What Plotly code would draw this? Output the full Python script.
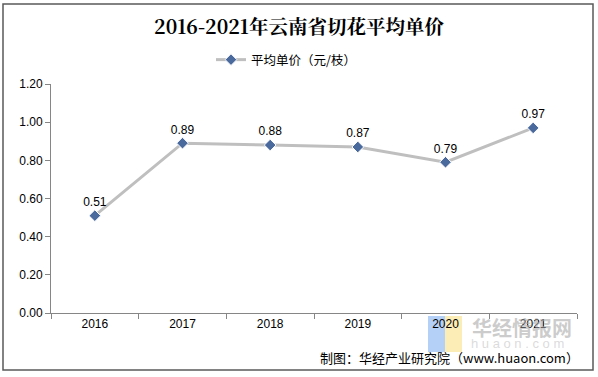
import plotly.graph_objects as go

years = ["2016", "2017", "2018", "2019", "2020", "2021"]
prices = [0.51, 0.89, 0.88, 0.87, 0.79, 0.97]
title_text = "2016-2021年云南省切花平均单价"
series_name = "平均单价（元/枝）"
source_text = "制图：华经产业研究院（www.huaon.com）"

W, H = 598, 377
L, R, T, B = 51, 577, 84, 313

def px(x):
    return (x - L) / (R - L)

def py(y):
    return (B - y) / (B - T)

fig = go.Figure()
fig.add_trace(go.Scatter(
    x=years, y=prices, mode="lines+markers+text", name=series_name,
    line=dict(color="#bfbfbf", width=3),
    marker=dict(symbol="diamond", size=9, color="#4a6a9e", line=dict(color="white", width=1)),
    text=[f"{v:.2f}" for v in prices], textposition="top center",
    textfont=dict(family="Liberation Sans, Arial", size=12, color="#000"),
    cliponaxis=False,
))

fig.update_layout(
    width=W, height=H,
    margin=dict(l=L, r=W - R, t=T, b=H - B),
    paper_bgcolor="white", plot_bgcolor="white",
    font=dict(family="Liberation Sans, Arial", size=12, color="#000"),
    title=dict(text=f"<b>{title_text}</b>", x=0.5, xanchor="center", y=1 - 27 / H, yanchor="middle",
               font=dict(family="Noto Serif CJK SC, Noto Sans CJK SC", size=19.5, color="#000")),
    showlegend=True,
    legend=dict(orientation="h", x=px(286), xanchor="center", y=py(60), yanchor="middle",
                font=dict(family="Noto Sans CJK SC", size=12.5, color="#000"),
                itemwidth=30, bgcolor="rgba(0,0,0,0)"),
    xaxis=dict(type="category", showline=True, linecolor="#868686", linewidth=1,
               ticks="outside", tickson="boundaries", ticklen=5, tickcolor="#868686",
               showgrid=False, tickfont=dict(size=12), range=[-0.5, 5.5]),
    yaxis=dict(range=[0, 1.2], dtick=0.2, tickformat=".2f", showline=True,
               linecolor="#868686", linewidth=1, ticks="outside", ticklen=5,
               tickcolor="#868686", showgrid=False, zeroline=False, tickfont=dict(size=12)),
)

# outer border
fig.add_shape(type="rect", xref="paper", yref="paper",
              x0=px(3), x1=px(593), y0=py(370), y1=py(4),
              line=dict(color="#595959", width=1.5), layer="below")

# watermark logo
fig.add_shape(type="rect", xref="paper", yref="paper",
              x0=px(428), x1=px(445), y0=py(352), y1=py(316),
              fillcolor="rgba(120,170,240,0.55)", line=dict(width=0), layer="below")
fig.add_shape(type="rect", xref="paper", yref="paper",
              x0=px(445), x1=px(462), y0=py(352), y1=py(316),
              fillcolor="rgba(250,220,110,0.5)", line=dict(width=0), layer="below")
fig.add_annotation(text="<b>华经情报网</b>", xref="paper", yref="paper",
                   x=px(522), y=py(327), xanchor="center", yanchor="middle", showarrow=False,
                   font=dict(family="Noto Sans CJK SC", size=20, color="rgba(170,170,170,0.6)"))
fig.add_annotation(text="h u a o n . c o m", xref="paper", yref="paper",
                   x=px(517), y=py(343), xanchor="center", yanchor="middle", showarrow=False,
                   font=dict(family="Liberation Sans", size=13, color="rgba(195,195,195,0.6)"))

fig.add_annotation(text=source_text, xref="paper", yref="paper",
                   x=px(581), y=py(357), xanchor="right", yanchor="middle", showarrow=False,
                   font=dict(family="Noto Sans CJK SC", size=13, color="#000"))

fig.write_html("out.html", config={"displayModeBar": False},
               post_script="document.body.style.margin='0';document.body.style.padding='0';")
